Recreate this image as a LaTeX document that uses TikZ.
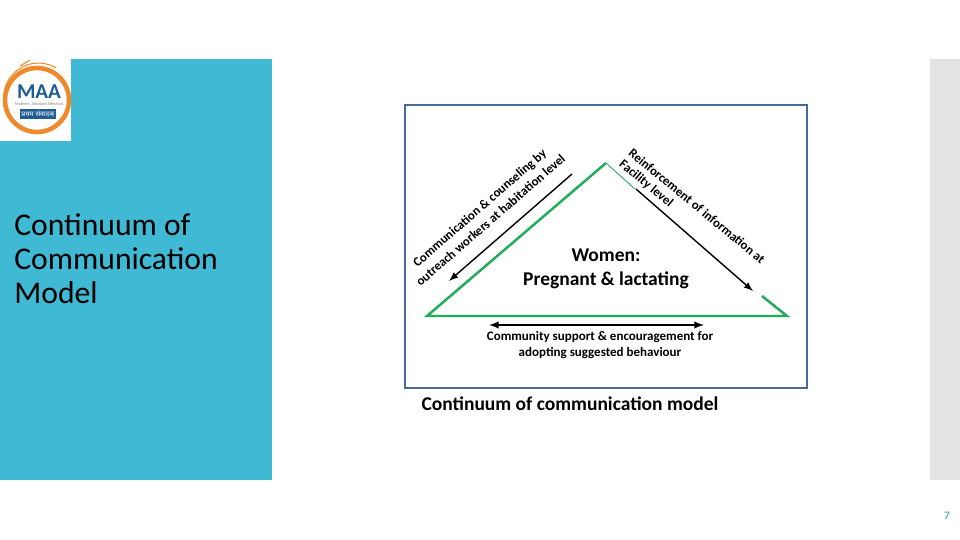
\documentclass[tikz,border=0pt]{standalone}
\usepackage{fontspec}
\setmainfont{Carlito}
\newfontfamily\hindifont[Script=Devanagari]{Noto Sans}
\definecolor{panelblue}{HTML}{40B9D5}
\definecolor{framegray}{HTML}{E3E3E3}
\definecolor{boxblue}{HTML}{4A6A96}
\definecolor{lineGreen}{HTML}{1FAE57}
\definecolor{ringorange}{HTML}{EE8A2C}
\definecolor{maablue}{HTML}{1F5C94}
\tikzset{
    sidetext/.style={font=\fontsize{18}{19.5}\selectfont,align=left,anchor=north west,inner sep=0pt},
    armtext/.style={font=\bfseries\fontsize{7.3}{9.4}\selectfont,align=center,inner sep=0pt},
    greenline/.style={draw=lineGreen,line width=1.4pt},
    arrowline/.style={draw=black,line width=0.8pt,-latex}
}
\begin{document}
\begin{tikzpicture}[x=0.02cm,y=-0.02cm]
    \useasboundingbox (0,0) rectangle (960,540);
    % Side panels
    \fill[panelblue] (0,59) rectangle (272,480);
    \fill[framegray] (930,59) rectangle (960,480);

    % Logo
    \fill[white] (0,59) rectangle (71,141);
    \draw[ringorange,line width=2.6pt] (37,100) circle (32);
    \draw[ringorange,line width=0.6pt] (4,92) arc (190:300:35);
    \draw[ringorange,line width=0.6pt] (20,66) -- (30,60);
    \node[font=\bfseries\fontsize{12}{12}\selectfont,text=maablue,inner sep=0pt] (logoname) at (39,92) {MAA};
    \node[font=\fontsize{2.4}{3}\selectfont,text=gray,inner sep=0pt] (logosub) at (39,104) {Mothers' Absolute Affection};
    \node[fill=maablue,text=white,font=\hindifont\fontsize{3.9}{4}\selectfont,inner sep=1pt] (logotag) at (38,114) {प्रथम संवादक};

    % Title on the panel
    \node[sidetext] (title) at (14,213) {Continuum of\\Communication\\Model};

    % Picture frame
    \draw[boxblue,line width=1.2pt,fill=white] (405,105) rectangle (807,388);

    % Triangle
    \coordinate (apex) at (606,163);
    \coordinate (left) at (427,316);
    \coordinate (right) at (787,316);
    \coordinate (gapa) at (635,189);
    \coordinate (gapb) at (762,296);
    \draw[greenline] (gapb) -- (right) -- (left) -- (apex);
    \draw[lineGreen,line width=0.5pt] (apex) -- (gapa);

    % Arrows
    \coordinate (leftarmtop) at (572,174);
    \coordinate (leftarmend) at (449,281);
    \coordinate (rightarmtop) at (636,189);
    \coordinate (rightarmend) at (753,291);
    \coordinate (baseleft) at (489,325);
    \coordinate (baseright) at (704,325);
    \draw[arrowline] (leftarmtop) -- (leftarmend);
    \draw[arrowline] (rightarmtop) -- (rightarmend);
    \draw[arrowline,latex-latex,line width=0.9pt] (baseleft) -- (baseright);

    % Labels
    \node[armtext,rotate=41] (leftlabel) at (485,214) {Communication \& counseling by\\outreach workers at habitation level};
    \node[armtext,rotate=-39.5] (rightlabel) at (697,206) {Reinforcement of information at};
    \node[armtext,rotate=-39.5] (facilitylabel) at (646,184) {Facility level};
    \node[font=\bfseries\fontsize{11.1}{13.6}\selectfont,align=center,inner sep=0pt] (women) at (606,269) {Women:\\Pregnant \& lactating};
    \node[armtext,font=\bfseries\fontsize{7.4}{9}\selectfont] (baselabel) at (600,345) {Community support \& encouragement for\\adopting suggested behaviour};
    \node[font=\bfseries\fontsize{11.1}{12}\selectfont,inner sep=0pt] (caption) at (570,404) {Continuum of communication model};

    % Page number
    \node[font=\fontsize{6.5}{7}\selectfont,text=panelblue!80!black,inner sep=0pt] (pagenum) at (947,516) {7};
\end{tikzpicture}
\end{document}
